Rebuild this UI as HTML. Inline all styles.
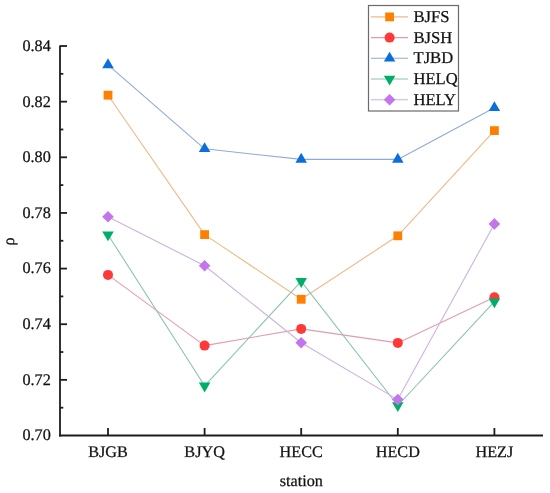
<!DOCTYPE html>
<html><head><meta charset="utf-8"><title>chart</title>
<style>html,body{margin:0;padding:0;background:#fff;}svg{display:block;}text{text-rendering:geometricPrecision;}</style>
</head><body>
<svg width="550" height="493" viewBox="0 0 550 493">
<rect width="550" height="493" fill="#fff"/>
<polyline points="108.00,95.20 204.60,234.60 301.20,299.30 397.80,235.80 494.40,130.60" fill="none" stroke="#EFBA88" stroke-width="1.1" stroke-linejoin="round"/>
<rect x="103.60" y="90.80" width="8.8" height="8.8" fill="#FF8000"/>
<rect x="200.20" y="230.20" width="8.8" height="8.8" fill="#FF8000"/>
<rect x="296.80" y="294.90" width="8.8" height="8.8" fill="#FF8000"/>
<rect x="393.40" y="231.40" width="8.8" height="8.8" fill="#FF8000"/>
<rect x="490.00" y="126.20" width="8.8" height="8.8" fill="#FF8000"/>
<polyline points="108.00,274.90 204.60,345.60 301.20,328.90 397.80,342.90 494.40,297.20" fill="none" stroke="#E49CAC" stroke-width="1.1" stroke-linejoin="round"/>
<circle cx="108.00" cy="274.90" r="5.0" fill="#FF3838"/>
<circle cx="204.60" cy="345.60" r="5.0" fill="#FF3838"/>
<circle cx="301.20" cy="328.90" r="5.0" fill="#FF3838"/>
<circle cx="397.80" cy="342.90" r="5.0" fill="#FF3838"/>
<circle cx="494.40" cy="297.20" r="5.0" fill="#FF3838"/>
<polyline points="108.00,64.90 204.60,148.80 301.20,159.40 397.80,159.40 494.40,107.80" fill="none" stroke="#8EABD8" stroke-width="1.1" stroke-linejoin="round"/>
<polygon points="108.00,58.30 113.75,68.20 102.25,68.20" fill="#0A6EDC"/>
<polygon points="204.60,142.20 210.35,152.10 198.85,152.10" fill="#0A6EDC"/>
<polygon points="301.20,152.80 306.95,162.70 295.45,162.70" fill="#0A6EDC"/>
<polygon points="397.80,152.80 403.55,162.70 392.05,162.70" fill="#0A6EDC"/>
<polygon points="494.40,101.20 500.15,111.10 488.65,111.10" fill="#0A6EDC"/>
<polyline points="108.00,234.70 204.60,385.80 301.20,281.40 397.80,405.50 494.40,301.70" fill="none" stroke="#8AC4B0" stroke-width="1.1" stroke-linejoin="round"/>
<polygon points="108.00,241.30 113.75,231.40 102.25,231.40" fill="#00AD69"/>
<polygon points="204.60,392.40 210.35,382.50 198.85,382.50" fill="#00AD69"/>
<polygon points="301.20,288.00 306.95,278.10 295.45,278.10" fill="#00AD69"/>
<polygon points="397.80,412.10 403.55,402.20 392.05,402.20" fill="#00AD69"/>
<polygon points="494.40,308.30 500.15,298.40 488.65,298.40" fill="#00AD69"/>
<polyline points="108.00,216.70 204.60,265.70 301.20,342.70 397.80,399.60 494.40,223.90" fill="none" stroke="#CDB3DE" stroke-width="1.1" stroke-linejoin="round"/>
<polygon points="108.00,210.90 113.80,216.70 108.00,222.50 102.20,216.70" fill="#C474EC"/>
<polygon points="204.60,259.90 210.40,265.70 204.60,271.50 198.80,265.70" fill="#C474EC"/>
<polygon points="301.20,336.90 307.00,342.70 301.20,348.50 295.40,342.70" fill="#C474EC"/>
<polygon points="397.80,393.80 403.60,399.60 397.80,405.40 392.00,399.60" fill="#C474EC"/>
<polygon points="494.40,218.10 500.20,223.90 494.40,229.70 488.60,223.90" fill="#C474EC"/>
<line x1="60.0" y1="45.5" x2="60.0" y2="436.4" stroke="#1c1c1c" stroke-width="1.8"/>
<line x1="59.1" y1="435.5" x2="543.0" y2="435.5" stroke="#1c1c1c" stroke-width="1.8"/>
<line x1="60.0" y1="407.68" x2="63.3" y2="407.68" stroke="#1c1c1c" stroke-width="1.8"/>
<line x1="60.0" y1="379.86" x2="67.0" y2="379.86" stroke="#1c1c1c" stroke-width="1.8"/>
<line x1="60.0" y1="352.04" x2="63.3" y2="352.04" stroke="#1c1c1c" stroke-width="1.8"/>
<line x1="60.0" y1="324.22" x2="67.0" y2="324.22" stroke="#1c1c1c" stroke-width="1.8"/>
<line x1="60.0" y1="296.40" x2="63.3" y2="296.40" stroke="#1c1c1c" stroke-width="1.8"/>
<line x1="60.0" y1="268.58" x2="67.0" y2="268.58" stroke="#1c1c1c" stroke-width="1.8"/>
<line x1="60.0" y1="240.76" x2="63.3" y2="240.76" stroke="#1c1c1c" stroke-width="1.8"/>
<line x1="60.0" y1="212.94" x2="67.0" y2="212.94" stroke="#1c1c1c" stroke-width="1.8"/>
<line x1="60.0" y1="185.12" x2="63.3" y2="185.12" stroke="#1c1c1c" stroke-width="1.8"/>
<line x1="60.0" y1="157.30" x2="67.0" y2="157.30" stroke="#1c1c1c" stroke-width="1.8"/>
<line x1="60.0" y1="129.48" x2="63.3" y2="129.48" stroke="#1c1c1c" stroke-width="1.8"/>
<line x1="60.0" y1="101.66" x2="67.0" y2="101.66" stroke="#1c1c1c" stroke-width="1.8"/>
<line x1="60.0" y1="73.84" x2="63.3" y2="73.84" stroke="#1c1c1c" stroke-width="1.8"/>
<line x1="60.0" y1="46.02" x2="67.0" y2="46.02" stroke="#1c1c1c" stroke-width="1.8"/>
<line x1="108.00" y1="435.5" x2="108.00" y2="428.0" stroke="#1c1c1c" stroke-width="1.8"/>
<line x1="204.60" y1="435.5" x2="204.60" y2="428.0" stroke="#1c1c1c" stroke-width="1.8"/>
<line x1="301.20" y1="435.5" x2="301.20" y2="428.0" stroke="#1c1c1c" stroke-width="1.8"/>
<line x1="397.80" y1="435.5" x2="397.80" y2="428.0" stroke="#1c1c1c" stroke-width="1.8"/>
<line x1="494.40" y1="435.5" x2="494.40" y2="428.0" stroke="#1c1c1c" stroke-width="1.8"/>
<g font-family="'Liberation Serif', 'Times New Roman', serif" font-size="16.2" fill="#111" stroke="#111" stroke-width="0.25">
<text x="50.8" y="440.40" text-anchor="end">0.70</text>
<text x="50.8" y="384.76" text-anchor="end">0.72</text>
<text x="50.8" y="329.12" text-anchor="end">0.74</text>
<text x="50.8" y="273.48" text-anchor="end">0.76</text>
<text x="50.8" y="217.84" text-anchor="end">0.78</text>
<text x="50.8" y="162.20" text-anchor="end">0.80</text>
<text x="50.8" y="106.56" text-anchor="end">0.82</text>
<text x="50.8" y="50.92" text-anchor="end">0.84</text>
<text x="108.00" y="457.0" text-anchor="middle">BJGB</text>
<text x="204.60" y="457.0" text-anchor="middle">BJYQ</text>
<text x="301.20" y="457.0" text-anchor="middle">HECC</text>
<text x="397.80" y="457.0" text-anchor="middle">HECD</text>
<text x="494.40" y="457.0" text-anchor="middle">HEZJ</text>
<text x="301.3" y="485.7" text-anchor="middle">station</text>
<text transform="translate(14.3,241.5) rotate(-90)" text-anchor="middle">&#961;</text>
</g>
<g font-family="'Liberation Serif', 'Times New Roman', serif" fill="#111">
<rect x="368.5" y="5.5" width="90.0" height="105.5" fill="#fff" stroke="#6a6a6a" stroke-width="1.2"/>
<line x1="371" y1="16.90" x2="408" y2="16.90" stroke="#EFBA88" stroke-width="1.1"/>
<rect x="385.20" y="12.50" width="8.8" height="8.8" fill="#FF8000"/>
<text x="413.5" y="22.00" font-size="16.6" stroke="#111" stroke-width="0.25">BJFS</text>
<line x1="371" y1="37.60" x2="408" y2="37.60" stroke="#E49CAC" stroke-width="1.1"/>
<circle cx="389.60" cy="37.60" r="5.0" fill="#FF3838"/>
<text x="413.5" y="42.70" font-size="16.6" stroke="#111" stroke-width="0.25">BJSH</text>
<line x1="371" y1="58.30" x2="408" y2="58.30" stroke="#8EABD8" stroke-width="1.1"/>
<polygon points="389.60,51.70 395.35,61.60 383.85,61.60" fill="#0A6EDC"/>
<text x="413.5" y="63.40" font-size="16.6" stroke="#111" stroke-width="0.25">TJBD</text>
<line x1="371" y1="79.00" x2="408" y2="79.00" stroke="#8AC4B0" stroke-width="1.1"/>
<polygon points="389.60,85.60 395.35,75.70 383.85,75.70" fill="#00AD69"/>
<text x="413.5" y="84.10" font-size="16.6" stroke="#111" stroke-width="0.25">HELQ</text>
<line x1="371" y1="99.70" x2="408" y2="99.70" stroke="#CDB3DE" stroke-width="1.1"/>
<polygon points="389.60,93.90 395.40,99.70 389.60,105.50 383.80,99.70" fill="#C474EC"/>
<text x="413.5" y="104.80" font-size="16.6" stroke="#111" stroke-width="0.25">HELY</text>
</g>
</svg>
</body></html>
